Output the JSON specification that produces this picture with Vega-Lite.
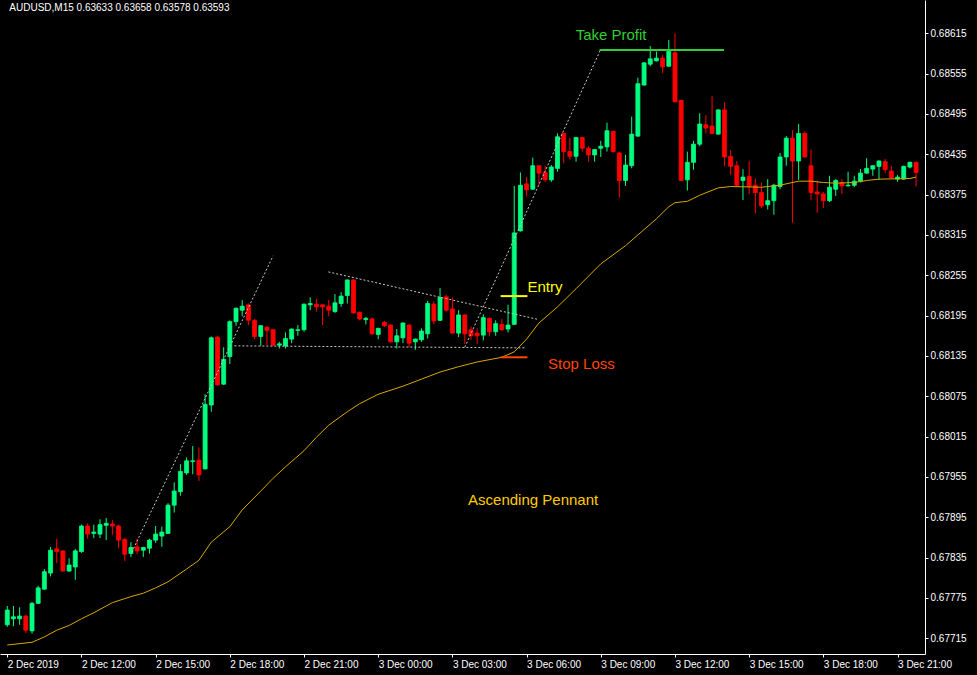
{
"$schema": "https://vega.github.io/schema/vega-lite/v6.json",
"width": 925, "height": 654, "padding": {"left": 0, "top": 0, "right": 20, "bottom": 12}, "autosize": {"type": "pad"},
"background": "#000000",
"config": {"view": {"stroke": null}, "font": "Liberation Sans"},
"datasets": {
"candles": [
{"t":"2019-12-02T09:00Z","o":0.67735,"h":0.67763,"l":0.67732,"c":0.67757},
{"t":"2019-12-02T09:15Z","o":0.67744,"h":0.67763,"l":0.67733,"c":0.67747},
{"t":"2019-12-02T09:30Z","o":0.67744,"h":0.67761,"l":0.67735,"c":0.67748},
{"t":"2019-12-02T09:45Z","o":0.67748,"h":0.67750,"l":0.67723,"c":0.67727},
{"t":"2019-12-02T10:00Z","o":0.67726,"h":0.67769,"l":0.67722,"c":0.67767},
{"t":"2019-12-02T10:15Z","o":0.67767,"h":0.67793,"l":0.67766,"c":0.67790},
{"t":"2019-12-02T10:30Z","o":0.67788,"h":0.67818,"l":0.67787,"c":0.67814},
{"t":"2019-12-02T10:45Z","o":0.67812,"h":0.67851,"l":0.67807,"c":0.67846},
{"t":"2019-12-02T11:00Z","o":0.67848,"h":0.67863,"l":0.67827,"c":0.67844},
{"t":"2019-12-02T11:15Z","o":0.67845,"h":0.67846,"l":0.67814,"c":0.67815},
{"t":"2019-12-02T11:30Z","o":0.67815,"h":0.67834,"l":0.67814,"c":0.67824},
{"t":"2019-12-02T11:45Z","o":0.67821,"h":0.67848,"l":0.67802,"c":0.67845},
{"t":"2019-12-02T12:00Z","o":0.67844,"h":0.67884,"l":0.67842,"c":0.67882},
{"t":"2019-12-02T12:15Z","o":0.67882,"h":0.67886,"l":0.67863,"c":0.67870},
{"t":"2019-12-02T12:30Z","o":0.67871,"h":0.67884,"l":0.67864,"c":0.67873},
{"t":"2019-12-02T12:45Z","o":0.67870,"h":0.67892,"l":0.67864,"c":0.67884},
{"t":"2019-12-02T13:00Z","o":0.67883,"h":0.67894,"l":0.67861,"c":0.67886},
{"t":"2019-12-02T13:15Z","o":0.67885,"h":0.67891,"l":0.67869,"c":0.67882},
{"t":"2019-12-02T13:30Z","o":0.67882,"h":0.67884,"l":0.67849,"c":0.67861},
{"t":"2019-12-02T13:45Z","o":0.67862,"h":0.67864,"l":0.67830,"c":0.67840},
{"t":"2019-12-02T14:00Z","o":0.67841,"h":0.67858,"l":0.67836,"c":0.67850},
{"t":"2019-12-02T14:15Z","o":0.67851,"h":0.67863,"l":0.67840,"c":0.67845},
{"t":"2019-12-02T14:30Z","o":0.67846,"h":0.67851,"l":0.67836,"c":0.67850},
{"t":"2019-12-02T14:45Z","o":0.67849,"h":0.67863,"l":0.67841,"c":0.67861},
{"t":"2019-12-02T15:00Z","o":0.67861,"h":0.67882,"l":0.67857,"c":0.67870},
{"t":"2019-12-02T15:15Z","o":0.67867,"h":0.67881,"l":0.67851,"c":0.67873},
{"t":"2019-12-02T15:30Z","o":0.67871,"h":0.67916,"l":0.67870,"c":0.67913},
{"t":"2019-12-02T15:45Z","o":0.67913,"h":0.67947,"l":0.67902,"c":0.67934},
{"t":"2019-12-02T16:00Z","o":0.67933,"h":0.67974,"l":0.67927,"c":0.67963},
{"t":"2019-12-02T16:15Z","o":0.67961,"h":0.67984,"l":0.67958,"c":0.67979},
{"t":"2019-12-02T16:30Z","o":0.67978,"h":0.68001,"l":0.67959,"c":0.67979},
{"t":"2019-12-02T16:45Z","o":0.67980,"h":0.67999,"l":0.67949,"c":0.67958},
{"t":"2019-12-02T17:00Z","o":0.67967,"h":0.68078,"l":0.67966,"c":0.68063},
{"t":"2019-12-02T17:15Z","o":0.68062,"h":0.68164,"l":0.68052,"c":0.68162},
{"t":"2019-12-02T17:30Z","o":0.68163,"h":0.68165,"l":0.68091,"c":0.68092},
{"t":"2019-12-02T17:45Z","o":0.68093,"h":0.68148,"l":0.68092,"c":0.68130},
{"t":"2019-12-02T18:00Z","o":0.68134,"h":0.68188,"l":0.68123,"c":0.68186},
{"t":"2019-12-02T18:15Z","o":0.68186,"h":0.68207,"l":0.68180,"c":0.68206},
{"t":"2019-12-02T18:30Z","o":0.68203,"h":0.68218,"l":0.68194,"c":0.68209},
{"t":"2019-12-02T18:45Z","o":0.68211,"h":0.68213,"l":0.68181,"c":0.68188},
{"t":"2019-12-02T19:00Z","o":0.68188,"h":0.68190,"l":0.68160,"c":0.68164},
{"t":"2019-12-02T19:15Z","o":0.68164,"h":0.68181,"l":0.68150,"c":0.68180},
{"t":"2019-12-02T19:30Z","o":0.68178,"h":0.68179,"l":0.68151,"c":0.68173},
{"t":"2019-12-02T19:45Z","o":0.68174,"h":0.68175,"l":0.68150,"c":0.68151},
{"t":"2019-12-02T20:00Z","o":0.68151,"h":0.68156,"l":0.68146,"c":0.68153},
{"t":"2019-12-02T20:15Z","o":0.68150,"h":0.68170,"l":0.68146,"c":0.68161},
{"t":"2019-12-02T20:30Z","o":0.68160,"h":0.68176,"l":0.68154,"c":0.68175},
{"t":"2019-12-02T20:45Z","o":0.68173,"h":0.68181,"l":0.68165,"c":0.68174},
{"t":"2019-12-02T21:00Z","o":0.68174,"h":0.68213,"l":0.68171,"c":0.68212},
{"t":"2019-12-02T21:15Z","o":0.68211,"h":0.68222,"l":0.68203,"c":0.68213},
{"t":"2019-12-02T21:30Z","o":0.68212,"h":0.68220,"l":0.68201,"c":0.68208},
{"t":"2019-12-02T21:45Z","o":0.68211,"h":0.68212,"l":0.68181,"c":0.68208},
{"t":"2019-12-02T22:00Z","o":0.68209,"h":0.68218,"l":0.68194,"c":0.68203},
{"t":"2019-12-02T22:15Z","o":0.68201,"h":0.68227,"l":0.68199,"c":0.68214},
{"t":"2019-12-02T22:30Z","o":0.68213,"h":0.68230,"l":0.68208,"c":0.68224},
{"t":"2019-12-02T22:45Z","o":0.68225,"h":0.68249,"l":0.68213,"c":0.68248},
{"t":"2019-12-02T23:00Z","o":0.68248,"h":0.68249,"l":0.68198,"c":0.68199},
{"t":"2019-12-02T23:15Z","o":0.68200,"h":0.68201,"l":0.68188,"c":0.68190},
{"t":"2019-12-02T23:30Z","o":0.68189,"h":0.68193,"l":0.68182,"c":0.68191},
{"t":"2019-12-02T23:45Z","o":0.68190,"h":0.68192,"l":0.68166,"c":0.68168},
{"t":"2019-12-03T00:00Z","o":0.68167,"h":0.68177,"l":0.68160,"c":0.68176},
{"t":"2019-12-03T00:15Z","o":0.68185,"h":0.68187,"l":0.68178,"c":0.68180},
{"t":"2019-12-03T00:30Z","o":0.68181,"h":0.68182,"l":0.68155,"c":0.68156},
{"t":"2019-12-03T00:45Z","o":0.68156,"h":0.68175,"l":0.68146,"c":0.68165},
{"t":"2019-12-03T01:00Z","o":0.68162,"h":0.68185,"l":0.68154,"c":0.68184},
{"t":"2019-12-03T01:15Z","o":0.68181,"h":0.68182,"l":0.68148,"c":0.68154},
{"t":"2019-12-03T01:30Z","o":0.68156,"h":0.68161,"l":0.68144,"c":0.68160},
{"t":"2019-12-03T01:45Z","o":0.68159,"h":0.68176,"l":0.68156,"c":0.68172},
{"t":"2019-12-03T02:00Z","o":0.68168,"h":0.68217,"l":0.68161,"c":0.68213},
{"t":"2019-12-03T02:15Z","o":0.68212,"h":0.68216,"l":0.68182,"c":0.68187},
{"t":"2019-12-03T02:30Z","o":0.68188,"h":0.68236,"l":0.68187,"c":0.68222},
{"t":"2019-12-03T02:45Z","o":0.68223,"h":0.68226,"l":0.68201,"c":0.68203},
{"t":"2019-12-03T03:00Z","o":0.68205,"h":0.68222,"l":0.68168,"c":0.68169},
{"t":"2019-12-03T03:15Z","o":0.68169,"h":0.68203,"l":0.68163,"c":0.68196},
{"t":"2019-12-03T03:30Z","o":0.68196,"h":0.68197,"l":0.68153,"c":0.68168},
{"t":"2019-12-03T03:45Z","o":0.68174,"h":0.68179,"l":0.68159,"c":0.68165},
{"t":"2019-12-03T04:00Z","o":0.68169,"h":0.68176,"l":0.68153,"c":0.68165},
{"t":"2019-12-03T04:15Z","o":0.68166,"h":0.68197,"l":0.68158,"c":0.68192},
{"t":"2019-12-03T04:30Z","o":0.68191,"h":0.68192,"l":0.68164,"c":0.68171},
{"t":"2019-12-03T04:45Z","o":0.68171,"h":0.68188,"l":0.68165,"c":0.68183},
{"t":"2019-12-03T05:00Z","o":0.68182,"h":0.68190,"l":0.68172,"c":0.68174},
{"t":"2019-12-03T05:15Z","o":0.68175,"h":0.68211,"l":0.68170,"c":0.68181},
{"t":"2019-12-03T05:30Z","o":0.68182,"h":0.68388,"l":0.68181,"c":0.68318},
{"t":"2019-12-03T05:45Z","o":0.68321,"h":0.68408,"l":0.68320,"c":0.68389},
{"t":"2019-12-03T06:00Z","o":0.68391,"h":0.68401,"l":0.68372,"c":0.68382},
{"t":"2019-12-03T06:15Z","o":0.68383,"h":0.68430,"l":0.68382,"c":0.68418},
{"t":"2019-12-03T06:30Z","o":0.68418,"h":0.68419,"l":0.68389,"c":0.68407},
{"t":"2019-12-03T06:45Z","o":0.68408,"h":0.68418,"l":0.68394,"c":0.68397},
{"t":"2019-12-03T07:00Z","o":0.68397,"h":0.68419,"l":0.68394,"c":0.68416},
{"t":"2019-12-03T07:15Z","o":0.68414,"h":0.68466,"l":0.68409,"c":0.68461},
{"t":"2019-12-03T07:30Z","o":0.68466,"h":0.68467,"l":0.68422,"c":0.68439},
{"t":"2019-12-03T07:45Z","o":0.68439,"h":0.68459,"l":0.68427,"c":0.68432},
{"t":"2019-12-03T08:00Z","o":0.68432,"h":0.68461,"l":0.68424,"c":0.68460},
{"t":"2019-12-03T08:15Z","o":0.68460,"h":0.68461,"l":0.68439,"c":0.68444},
{"t":"2019-12-03T08:30Z","o":0.68444,"h":0.68447,"l":0.68424,"c":0.68434},
{"t":"2019-12-03T08:45Z","o":0.68434,"h":0.68443,"l":0.68424,"c":0.68442},
{"t":"2019-12-03T09:00Z","o":0.68444,"h":0.68455,"l":0.68431,"c":0.68447},
{"t":"2019-12-03T09:15Z","o":0.68446,"h":0.68482,"l":0.68439,"c":0.68470},
{"t":"2019-12-03T09:30Z","o":0.68469,"h":0.68470,"l":0.68437,"c":0.68439},
{"t":"2019-12-03T09:45Z","o":0.68437,"h":0.68439,"l":0.68371,"c":0.68396},
{"t":"2019-12-03T10:00Z","o":0.68396,"h":0.68434,"l":0.68388,"c":0.68419},
{"t":"2019-12-03T10:15Z","o":0.68418,"h":0.68491,"l":0.68414,"c":0.68465},
{"t":"2019-12-03T10:30Z","o":0.68462,"h":0.68549,"l":0.68461,"c":0.68540},
{"t":"2019-12-03T10:45Z","o":0.68538,"h":0.68572,"l":0.68537,"c":0.68571},
{"t":"2019-12-03T11:00Z","o":0.68569,"h":0.68596,"l":0.68566,"c":0.68577},
{"t":"2019-12-03T11:15Z","o":0.68574,"h":0.68588,"l":0.68573,"c":0.68578},
{"t":"2019-12-03T11:30Z","o":0.68578,"h":0.68583,"l":0.68556,"c":0.68565},
{"t":"2019-12-03T11:45Z","o":0.68566,"h":0.68605,"l":0.68565,"c":0.68588},
{"t":"2019-12-03T12:00Z","o":0.68586,"h":0.68615,"l":0.68512,"c":0.68513},
{"t":"2019-12-03T12:15Z","o":0.68515,"h":0.68516,"l":0.68395,"c":0.68396},
{"t":"2019-12-03T12:30Z","o":0.68397,"h":0.68439,"l":0.68381,"c":0.68423},
{"t":"2019-12-03T12:45Z","o":0.68423,"h":0.68455,"l":0.68412,"c":0.68450},
{"t":"2019-12-03T13:00Z","o":0.68450,"h":0.68496,"l":0.68447,"c":0.68480},
{"t":"2019-12-03T13:15Z","o":0.68479,"h":0.68493,"l":0.68466,"c":0.68474},
{"t":"2019-12-03T13:30Z","o":0.68477,"h":0.68522,"l":0.68465,"c":0.68466},
{"t":"2019-12-03T13:45Z","o":0.68465,"h":0.68502,"l":0.68464,"c":0.68501},
{"t":"2019-12-03T14:00Z","o":0.68501,"h":0.68512,"l":0.68417,"c":0.68431},
{"t":"2019-12-03T14:15Z","o":0.68432,"h":0.68441,"l":0.68404,"c":0.68417},
{"t":"2019-12-03T14:30Z","o":0.68418,"h":0.68425,"l":0.68387,"c":0.68389},
{"t":"2019-12-03T14:45Z","o":0.68396,"h":0.68413,"l":0.68367,"c":0.68401},
{"t":"2019-12-03T15:00Z","o":0.68402,"h":0.68425,"l":0.68376,"c":0.68387},
{"t":"2019-12-03T15:15Z","o":0.68389,"h":0.68399,"l":0.68347,"c":0.68378},
{"t":"2019-12-03T15:30Z","o":0.68378,"h":0.68393,"l":0.68355,"c":0.68358},
{"t":"2019-12-03T15:45Z","o":0.68360,"h":0.68398,"l":0.68353,"c":0.68366},
{"t":"2019-12-03T16:00Z","o":0.68366,"h":0.68391,"l":0.68345,"c":0.68389},
{"t":"2019-12-03T16:15Z","o":0.68387,"h":0.68437,"l":0.68383,"c":0.68431},
{"t":"2019-12-03T16:30Z","o":0.68431,"h":0.68462,"l":0.68418,"c":0.68459},
{"t":"2019-12-03T16:45Z","o":0.68459,"h":0.68471,"l":0.68333,"c":0.68425},
{"t":"2019-12-03T17:00Z","o":0.68425,"h":0.68480,"l":0.68397,"c":0.68466},
{"t":"2019-12-03T17:15Z","o":0.68466,"h":0.68469,"l":0.68430,"c":0.68431},
{"t":"2019-12-03T17:30Z","o":0.68418,"h":0.68442,"l":0.68367,"c":0.68378},
{"t":"2019-12-03T17:45Z","o":0.68379,"h":0.68396,"l":0.68348,"c":0.68376},
{"t":"2019-12-03T18:00Z","o":0.68376,"h":0.68379,"l":0.68355,"c":0.68366},
{"t":"2019-12-03T18:15Z","o":0.68366,"h":0.68403,"l":0.68364,"c":0.68386},
{"t":"2019-12-03T18:30Z","o":0.68383,"h":0.68398,"l":0.68373,"c":0.68396},
{"t":"2019-12-03T18:45Z","o":0.68393,"h":0.68398,"l":0.68376,"c":0.68388},
{"t":"2019-12-03T19:00Z","o":0.68388,"h":0.68409,"l":0.68387,"c":0.68389},
{"t":"2019-12-03T19:15Z","o":0.68389,"h":0.68403,"l":0.68386,"c":0.68395},
{"t":"2019-12-03T19:30Z","o":0.68395,"h":0.68413,"l":0.68393,"c":0.68407},
{"t":"2019-12-03T19:45Z","o":0.68407,"h":0.68429,"l":0.68406,"c":0.68414},
{"t":"2019-12-03T20:00Z","o":0.68413,"h":0.68418,"l":0.68403,"c":0.68418},
{"t":"2019-12-03T20:15Z","o":0.68417,"h":0.68426,"l":0.68397,"c":0.68425},
{"t":"2019-12-03T20:30Z","o":0.68424,"h":0.68428,"l":0.68407,"c":0.68412},
{"t":"2019-12-03T20:45Z","o":0.68410,"h":0.68418,"l":0.68399,"c":0.68400},
{"t":"2019-12-03T21:00Z","o":0.68398,"h":0.68404,"l":0.68394,"c":0.68401},
{"t":"2019-12-03T21:15Z","o":0.68398,"h":0.68418,"l":0.68397,"c":0.68417},
{"t":"2019-12-03T21:30Z","o":0.68416,"h":0.68424,"l":0.68414,"c":0.68423},
{"t":"2019-12-03T21:45Z","o":0.68423,"h":0.68424,"l":0.68387,"c":0.68408}
],
"ma": [
{"t":"2019-12-02T09:00Z","v":0.67705},{"t":"2019-12-02T10:00Z","v":0.67709},{"t":"2019-12-02T10:30Z","v":0.67717},
{"t":"2019-12-02T11:00Z","v":0.67727},{"t":"2019-12-02T11:30Z","v":0.67734},{"t":"2019-12-02T12:00Z","v":0.67744},
{"t":"2019-12-02T12:30Z","v":0.67753},{"t":"2019-12-02T13:15Z","v":0.67768},{"t":"2019-12-02T14:00Z","v":0.67777},
{"t":"2019-12-02T14:30Z","v":0.67782},{"t":"2019-12-02T15:00Z","v":0.67790},{"t":"2019-12-02T15:30Z","v":0.67799},
{"t":"2019-12-02T16:15Z","v":0.67818},{"t":"2019-12-02T16:45Z","v":0.67831},{"t":"2019-12-02T17:15Z","v":0.67858},
{"t":"2019-12-02T18:00Z","v":0.67881},{"t":"2019-12-02T18:30Z","v":0.67906},{"t":"2019-12-02T19:15Z","v":0.67934},
{"t":"2019-12-02T19:45Z","v":0.67953},{"t":"2019-12-02T20:15Z","v":0.67970},{"t":"2019-12-02T21:00Z","v":0.67994},
{"t":"2019-12-02T21:30Z","v":0.68014},{"t":"2019-12-02T22:00Z","v":0.68032},{"t":"2019-12-02T22:45Z","v":0.68052},
{"t":"2019-12-02T23:15Z","v":0.68064},{"t":"2019-12-03T00:00Z","v":0.68078},{"t":"2019-12-03T01:00Z","v":0.68090},
{"t":"2019-12-03T02:00Z","v":0.68104},{"t":"2019-12-03T02:30Z","v":0.68111},{"t":"2019-12-03T03:15Z","v":0.68119},
{"t":"2019-12-03T04:00Z","v":0.68126},{"t":"2019-12-03T05:00Z","v":0.68133},{"t":"2019-12-03T05:30Z","v":0.68141},
{"t":"2019-12-03T06:00Z","v":0.68160},{"t":"2019-12-03T06:30Z","v":0.68184},{"t":"2019-12-03T07:15Z","v":0.68208},
{"t":"2019-12-03T08:00Z","v":0.68235},{"t":"2019-12-03T09:00Z","v":0.68272},{"t":"2019-12-03T10:00Z","v":0.68299},
{"t":"2019-12-03T11:15Z","v":0.68339},{"t":"2019-12-03T11:45Z","v":0.68357},{"t":"2019-12-03T12:00Z","v":0.68363},
{"t":"2019-12-03T12:30Z","v":0.68365},{"t":"2019-12-03T13:00Z","v":0.68374},{"t":"2019-12-03T13:45Z","v":0.68385},
{"t":"2019-12-03T14:15Z","v":0.68387},{"t":"2019-12-03T15:30Z","v":0.68386},{"t":"2019-12-03T16:15Z","v":0.68389},
{"t":"2019-12-03T17:00Z","v":0.68395},{"t":"2019-12-03T17:30Z","v":0.68395},{"t":"2019-12-03T18:00Z","v":0.68393},
{"t":"2019-12-03T18:30Z","v":0.68392},{"t":"2019-12-03T19:15Z","v":0.68393},{"t":"2019-12-03T19:45Z","v":0.68396},
{"t":"2019-12-03T20:15Z","v":0.68398},{"t":"2019-12-03T21:30Z","v":0.68399},{"t":"2019-12-03T21:45Z","v":0.68401}
],
"guides": [
{"t1":"2019-12-02T14:02Z","p1":0.67843,"t2":"2019-12-02T19:45Z","p2":0.68284},
{"t1":"2019-12-02T18:11Z","p1":0.68150,"t2":"2019-12-03T05:59Z","p2":0.68147},
{"t1":"2019-12-02T21:59Z","p1":0.68260,"t2":"2019-12-03T06:30Z","p2":0.68189},
{"t1":"2019-12-03T03:30Z","p1":0.68148,"t2":"2019-12-03T08:59Z","p2":0.68590}
],
"levels": [
{"name":"Take Profit","t1":"2019-12-03T08:57Z","t2":"2019-12-03T13:59Z","p":0.68590},
{"name":"Entry","t1":"2019-12-03T04:57Z","t2":"2019-12-03T06:02Z","p":0.68224},
{"name":"Stop Loss","t1":"2019-12-03T04:57Z","t2":"2019-12-03T06:02Z","p":0.68133}
],
"labels": [
{"name":"Take Profit","t":"2019-12-03T07:59Z","p":0.68612},
{"name":"Entry","t":"2019-12-03T06:02Z","p":0.68237},
{"name":"Stop Loss","t":"2019-12-03T06:52Z","p":0.68123},
{"name":"Ascending Pennant","t":"2019-12-03T03:38Z","p":0.67921}
],
"header": [
{"txt":"AUDUSD,M15  0.63633 0.63658 0.63578 0.63593","t":"2019-12-02T09:05Z","p":0.68652}
]
},
"layer": [
{"data":{"name":"candles"},"mark":{"type":"rule","strokeWidth":1},
 "encoding":{
  "x":{"field":"t","type":"temporal","scale":{"type":"utc","domain":[1575276869000,1575410069000]},
   "axis":{"values":[1575277200000,1575288000000,1575298800000,1575309600000,1575320400000,1575331200000,1575342000000,1575352800000,1575363600000,1575374400000,1575385200000,1575396000000,1575406800000],
    "labelExpr":"time(datum.value) == 1575277200000 ? '2 Dec 2019' : utcFormat(datum.value, '%-d %b %H:%M')",
    "title":null,"grid":false,"domainColor":"#FFFFFF","tickColor":"#FFFFFF","tickSize":3,"labelColor":"#FFFFFF","labelFontSize":10,"labelFont":"Liberation Sans","labelAlign":"left","labelBaseline":"top","labelPadding":2,"labelOverlap":false,"labelFlush":false,"labelBound":false}},
  "y":{"field":"l","type":"quantitative","scale":{"domain":[0.676916,0.686645],"zero":false,"nice":false},
   "axis":{"orient":"right","values":[0.67715,0.67775,0.67835,0.67895,0.67955,0.68015,0.68075,0.68135,0.68195,0.68255,0.68315,0.68375,0.68435,0.68495,0.68555,0.68615],"format":".5f","title":null,"grid":false,"domainColor":"#FFFFFF","tickColor":"#FFFFFF","tickSize":3,"labelColor":"#FFFFFF","labelFontSize":10,"labelFont":"Liberation Sans","labelPadding":2,"labelOverlap":false,"labelFlush":false,"labelBound":false}},
  "y2":{"field":"h"},
  "color":{"condition":{"test":"datum.c >= datum.o","value":"#00FF7F"},"value":"#FF0000"}
 }},
{"data":{"name":"candles"},"mark":{"type":"bar","size":4,"strokeWidth":0.8},
 "encoding":{
  "x":{"field":"t","type":"temporal","scale":{"type":"utc","domain":[1575276869000,1575410069000]},"axis":{"title":null}},
  "y":{"field":"o","type":"quantitative","scale":{"domain":[0.676916,0.686645],"zero":false,"nice":false},"axis":{"title":null,"orient":"right"}},
  "y2":{"field":"c"},
  "color":{"condition":{"test":"datum.c >= datum.o","value":"#00FF7F"},"value":"#FF0000"},
  "stroke":{"condition":{"test":"datum.c >= datum.o","value":"#00FF7F"},"value":"#FF0000"}
 }},
{"data":{"name":"ma"},"mark":{"type":"line","color":"#D9A800","strokeWidth":1},
 "encoding":{
  "x":{"field":"t","type":"temporal","scale":{"type":"utc","domain":[1575276869000,1575410069000]},"axis":{"title":null}},
  "y":{"field":"v","type":"quantitative","scale":{"domain":[0.676916,0.686645],"zero":false,"nice":false},"axis":{"title":null,"orient":"right"}}
 }},
{"data":{"name":"guides"},"mark":{"type":"rule","color":"#C8C8C8","strokeWidth":1,"strokeDash":[2,2]},
 "encoding":{
  "x":{"field":"t1","type":"temporal","scale":{"type":"utc","domain":[1575276869000,1575410069000]},"axis":{"title":null}},
  "x2":{"field":"t2"},
  "y":{"field":"p1","type":"quantitative","scale":{"domain":[0.676916,0.686645],"zero":false,"nice":false},"axis":{"title":null,"orient":"right"}},
  "y2":{"field":"p2"}
 }},
{"data":{"name":"levels"},"mark":{"type":"rule","strokeWidth":2},
 "encoding":{
  "x":{"field":"t1","type":"temporal","scale":{"type":"utc","domain":[1575276869000,1575410069000]},"axis":{"title":null}},
  "x2":{"field":"t2"},
  "y":{"field":"p","type":"quantitative","scale":{"domain":[0.676916,0.686645],"zero":false,"nice":false},"axis":{"title":null,"orient":"right"}},
  "color":{"field":"name","type":"nominal","scale":{"domain":["Take Profit","Entry","Stop Loss","Ascending Pennant"],"range":["#32CD32","#FFFF00","#FF4500","#FFCC00"]},"legend":null}
 }},
{"data":{"name":"labels"},"mark":{"type":"text","align":"left","baseline":"middle","fontSize":15,"font":"Liberation Sans"},
 "encoding":{
  "x":{"field":"t","type":"temporal","scale":{"type":"utc","domain":[1575276869000,1575410069000]},"axis":{"title":null}},
  "y":{"field":"p","type":"quantitative","scale":{"domain":[0.676916,0.686645],"zero":false,"nice":false},"axis":{"title":null,"orient":"right"}},
  "text":{"field":"name"},
  "color":{"field":"name","type":"nominal","scale":{"domain":["Take Profit","Entry","Stop Loss","Ascending Pennant"],"range":["#32CD32","#FFFF00","#FF4500","#FFCC00"]},"legend":null}
 }},
{"data":{"name":"header"},"mark":{"type":"text","align":"left","baseline":"middle","fontSize":10,"font":"Liberation Sans","color":"#FFFFFF"},
 "encoding":{
  "x":{"field":"t","type":"temporal","scale":{"type":"utc","domain":[1575276869000,1575410069000]},"axis":{"title":null}},
  "y":{"field":"p","type":"quantitative","scale":{"domain":[0.676916,0.686645],"zero":false,"nice":false},"axis":{"title":null,"orient":"right"}},
  "text":{"field":"txt"}
 }}
]
}
